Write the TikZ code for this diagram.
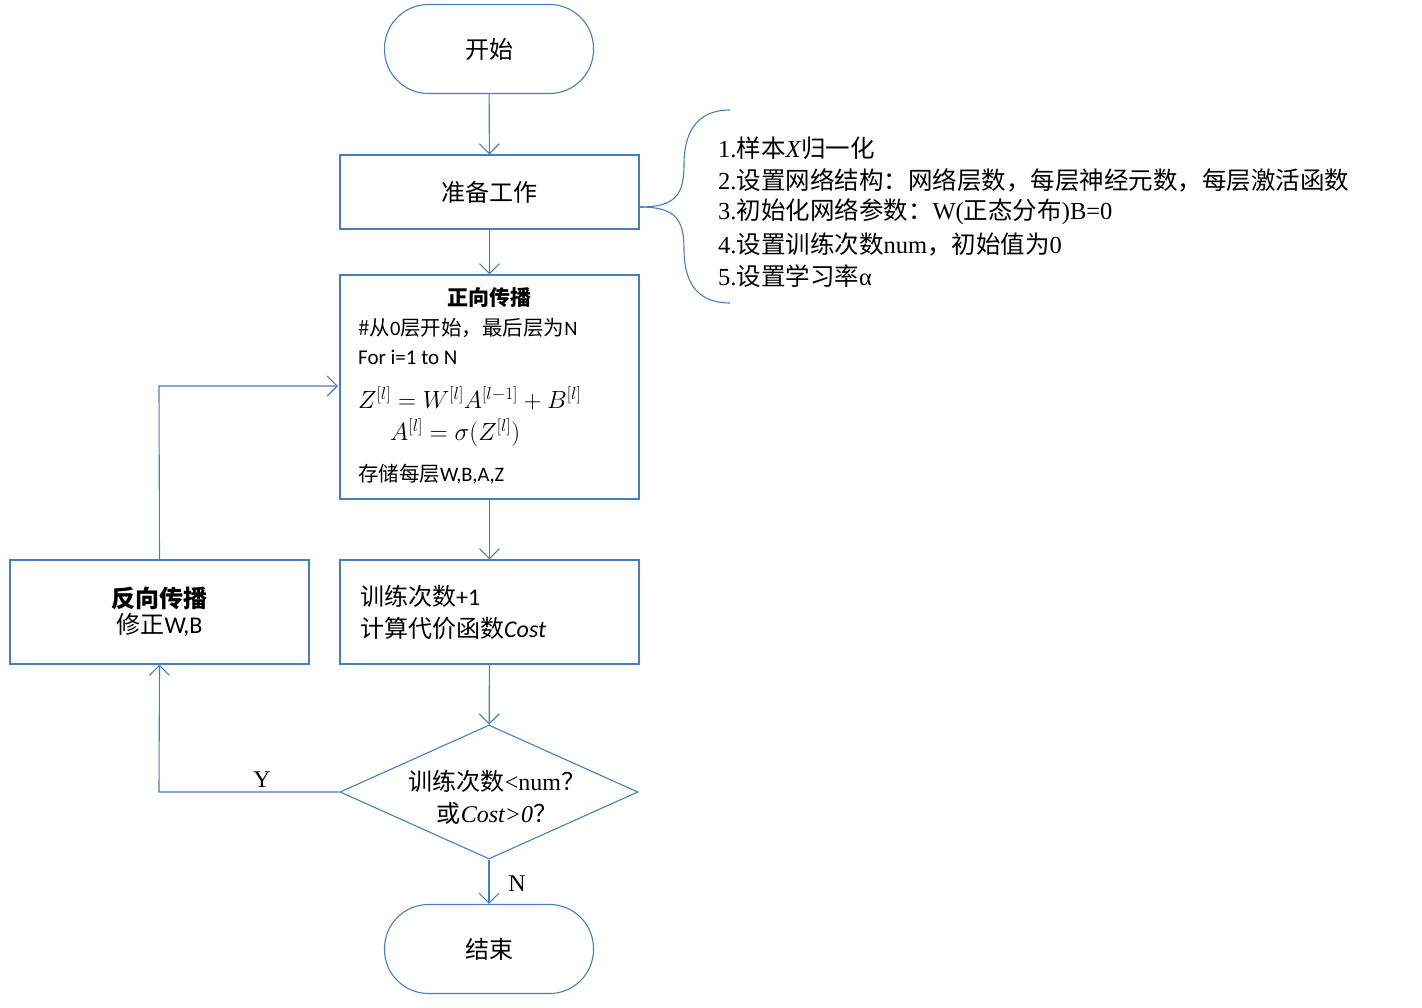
\documentclass[tikz,border=0pt]{standalone}
\usepackage{fontspec}
\setmainfont{Liberation Serif}
\setsansfont{Carlito}
\newfontfamily\cjk{Noto Sans CJK SC}
\newcommand{\zh}[1]{{\cjk #1}}
\usetikzlibrary{arrows.meta,shapes.geometric}
\begin{document}
\begin{tikzpicture}[x=1pt,y=-1pt,
  line/.style={draw=lineblue,line width=1.1pt},
  arr/.style={line,-{Straight Barb[length=10pt,width=20pt,line width=1.1pt]}},
  boxx/.style={line,rectangle,minimum width=299pt,inner sep=0pt},
  stad/.style={line,rectangle,minimum width=209pt,minimum height=89pt,rounded corners=44pt,font=\fontsize{24}{28}\selectfont},
  txt/.style={inner sep=0pt,anchor=west}]
\definecolor{lineblue}{HTML}{4A7EBB}
\useasboundingbox (0,0) rectangle (1422,1007);
\node[stad] (start) at (489,49) {\zh{开始}};
\node[boxx,minimum height=74pt,font=\fontsize{24}{28}\selectfont] (prep) at (489.5,192) {\zh{准备工作}};
\node[boxx,minimum height=224pt] (fwd) at (489.5,387) {};
\node[boxx,minimum height=104pt] (train) at (489.5,612) {};
\node[boxx,minimum height=104pt,font=\fontsize{24}{28}\selectfont,align=center] (back) at (159.5,612) {\zh{\bfseries 反向传播}\\[-2pt]\zh{修正}\sffamily W,B};
\node[line,diamond,minimum width=298pt,minimum height=134pt,inner sep=0pt,aspect=2.2] (dec) at (489,792) {};
\node[stad] (end) at (489,949) {\zh{结束}};
% forward box contents
\node[inner sep=0pt,font=\fontsize{21}{24}\selectfont] (ft) at (489,298) {\zh{\bfseries 正向传播}};
\node[txt,font=\fontsize{20.5}{24}\selectfont] (f1) at (358,328) {\zh{\#从}\sffamily 0\zh{层开始，最后层为}N};
\node[txt,font=\fontsize{21}{24}\selectfont\sffamily] (f2) at (358,357) {For i=1 to N};
\node[txt,font=\fontsize{25}{28}\selectfont] (f3) at (358,398) {$Z^{[l]}=W^{[l]}A^{[l-1]}+B^{[l]}$};
\node[txt,font=\fontsize{25}{28}\selectfont] (f4) at (390,433) {$A^{[l]}=\sigma(Z^{[l]})$};
\node[txt,font=\fontsize{20.5}{24}\selectfont] (f5) at (358,474) {\zh{存储每层}\sffamily W,B,A,Z};
% train box
\node[txt,font=\fontsize{24}{28}\selectfont] (t1) at (360,596) {\zh{训练次数}\sffamily +1};
\node[txt,font=\fontsize{24}{28}\selectfont] (t2) at (360,628) {\zh{计算代价函数}\sffamily\itshape Cost};
% decision text
\node[inner sep=0pt,font=\fontsize{24}{28}\selectfont] (d1) at (497,781) {\zh{训练次数}<num\zh{？}};
\node[inner sep=0pt,font=\fontsize{24}{28}\selectfont] (d2) at (497,813) {\zh{或}\textit{Cost>0}\zh{？}};
% arrows
\draw[arr] (start) -- (prep);
\draw[arr] (prep) -- (fwd);
\draw[arr] (fwd) -- (train);
\draw[arr] (train) -- (dec);
\draw[arr] (dec) -- (end);
\coordinate (c1) at (159,386);
\coordinate (c2) at (338,386);
\draw[arr] (back.north) -- (c1) -- (c2);
\coordinate (c3) at (159,792);
\draw[arr] (dec.west) -- (c3) -- (back.south);
\node[font=\fontsize{24}{28}\selectfont] (ylab) at (262,780) {Y};
\node[font=\fontsize{24}{28}\selectfont] (nlab) at (517,884) {N};
% brace
\coordinate (b0) at (640,207);
\coordinate (bt) at (730,110);
\coordinate (bb) at (730,303);
\draw[line] (b0) .. controls (675,207) and (684,195) .. (684,165) .. controls (684,128) and (700,110) .. (bt);
\draw[line] (b0) .. controls (675,207) and (684,219) .. (684,249) .. controls (684,286) and (700,303) .. (bb);
\begin{scope}[every node/.style={txt,font=\fontsize{24.5}{28}\selectfont}]
\node (l1) at (718,148) {1.\zh{样本}\textit{X}\zh{归一化}};
\node (l2) at (718,180) {2.\zh{设置网络结构：网络层数，每层神经元数，每层激活函数}};
\node (l3) at (718,212) {3.\zh{初始化网络参数：}W(\zh{正态分布})B=0};
\node (l4) at (718,244) {4.\zh{设置训练次数}num\zh{，初始值为}0};
\node (l5) at (718,276) {5.\zh{设置学习率}α};
\end{scope}
\end{tikzpicture}
\end{document}
